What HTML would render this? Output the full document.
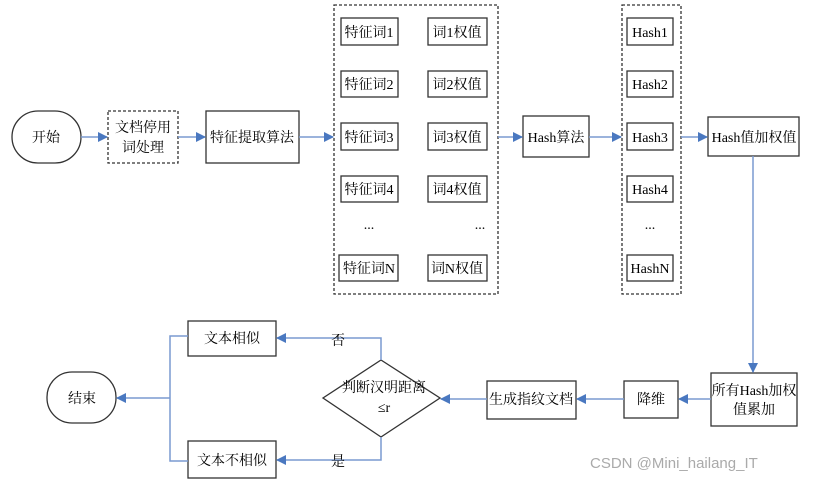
<!DOCTYPE html>
<html><head><meta charset="utf-8"><style>
body{margin:0;background:#fff;}
svg text{font-family:"Liberation Serif","Noto Serif CJK SC","Noto Sans CJK SC",serif;font-size:14px;fill:#000;}
</style></head><body>
<svg width="814" height="482" xmlns="http://www.w3.org/2000/svg">
<defs><marker id="a" markerWidth="10" markerHeight="10" refX="9" refY="5" orient="auto" markerUnits="userSpaceOnUse"><path d="M0,0 L10,5 L0,10 z" fill="#4a78c0"/></marker></defs>
<g fill="#fff" stroke="#333" stroke-width="1.3">
<rect x="12" y="111" width="69" height="52" rx="26"/>
<rect x="108" y="111" width="70" height="52" stroke-dasharray="3,2"/>
<rect x="206" y="111" width="93" height="52"/>
<rect x="334" y="5" width="164" height="289" stroke-dasharray="3,2"/>
<rect x="341" y="18" width="57" height="27"/><rect x="341" y="71" width="57" height="26"/><rect x="341" y="123" width="57" height="27"/><rect x="341" y="176" width="57" height="26"/><rect x="339" y="255" width="59" height="26"/>
<rect x="428" y="18" width="59" height="27"/><rect x="428" y="71" width="59" height="26"/><rect x="428" y="123" width="59" height="27"/><rect x="428" y="176" width="59" height="26"/><rect x="428" y="255" width="59" height="26"/>
<rect x="523" y="116" width="66" height="41"/>
<rect x="622" y="5" width="59" height="289" stroke-dasharray="3,2"/>
<rect x="627" y="18" width="46" height="27"/><rect x="627" y="71" width="46" height="26"/><rect x="627" y="123" width="46" height="27"/><rect x="627" y="176" width="46" height="26"/><rect x="627" y="255" width="46" height="26"/>
<rect x="708" y="117" width="91" height="39"/>
<rect x="711" y="373" width="86" height="53"/>
<rect x="624" y="381" width="54" height="37"/>
<rect x="487" y="381" width="89" height="38"/>
<path d="M381,360 L440,398 L381,437 L323,398 z"/>
<rect x="188" y="321" width="88" height="35"/>
<rect x="188" y="441" width="88" height="37"/>
<rect x="47" y="372" width="69" height="51" rx="25"/>
</g>
<g fill="none" stroke="#7a9ad0" stroke-width="1.5" marker-end="url(#a)">
<line x1="81" y1="137" x2="107" y2="137"/>
<line x1="178" y1="137" x2="205" y2="137"/>
<line x1="299" y1="137" x2="333" y2="137"/>
<line x1="498" y1="137" x2="522" y2="137"/>
<line x1="589" y1="137" x2="621" y2="137"/>
<line x1="681" y1="137" x2="707" y2="137"/>
<line x1="753" y1="156" x2="753" y2="372"/>
<line x1="711" y1="399" x2="679" y2="399"/>
<line x1="624" y1="399" x2="577" y2="399"/>
<line x1="487" y1="399" x2="441" y2="399"/>
<polyline points="381,360 381,338 277,338"/>
<polyline points="381,437 381,460 277,460"/>
<polyline points="188,461 170,461 170,336 188,336" marker-end="none"/>
<line x1="170" y1="398" x2="117" y2="398"/>
</g>
<g text-anchor="middle">
<text x="46" y="142">开始</text>
<text x="143" y="132">文档停用</text><text x="143" y="152">词处理</text>
<text x="252" y="142">特征提取算法</text>
<text x="369" y="37">特征词1</text><text x="369" y="89">特征词2</text><text x="369" y="142">特征词3</text><text x="369" y="194">特征词4</text><text x="369" y="229">...</text><text x="369" y="273">特征词N</text>
<text x="457" y="37">词1权值</text><text x="457" y="89">词2权值</text><text x="457" y="142">词3权值</text><text x="457" y="194">词4权值</text><text x="480" y="229">...</text><text x="457" y="273">词N权值</text>
<text x="556" y="142">Hash算法</text>
<text x="650" y="37">Hash1</text><text x="650" y="89">Hash2</text><text x="650" y="142">Hash3</text><text x="650" y="194">Hash4</text><text x="650" y="229">...</text><text x="650" y="273">HashN</text>
<text x="754" y="142">Hash值加权值</text>
<text x="754" y="395">所有Hash加权</text><text x="754" y="414">值累加</text>
<text x="651" y="404">降维</text>
<text x="531" y="404">生成指纹文档</text>
<text x="384" y="392">判断汉明距离</text><text x="384" y="412">≤r</text>
<text x="232" y="343">文本相似</text>
<text x="232" y="465">文本不相似</text>
<text x="82" y="403">结束</text>
<text x="338" y="345">否</text>
<text x="338" y="466">是</text>
</g>
<text x="590" y="468" style="font-family:'Liberation Sans',sans-serif;font-size:15px;fill:#aaa">CSDN @Mini_hailang_IT</text>
</svg>
</body></html>
